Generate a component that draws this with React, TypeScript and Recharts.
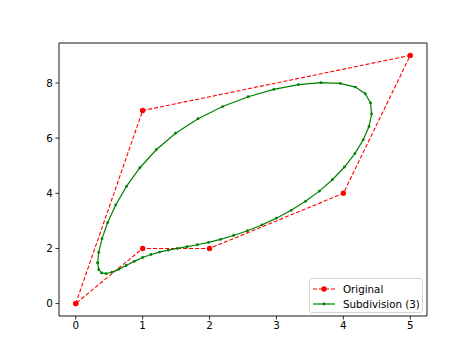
import React from 'react';
import { ScatterChart, Scatter, XAxis, YAxis, ReferenceArea, Legend } from 'recharts';

// Original control polygon (closed)
const originalX = [0, 1, 5, 4, 2, 1, 0];
const originalY = [0, 7, 9, 4, 2, 2, 0];

// Subdivision (3 levels) points, read to match the plotted curve (closed)
const subdivX = [
  0.328, 0.344, 0.393, 0.477, 0.598, 0.758, 0.959, 1.203, 1.492, 1.828, 2.195, 2.578,
  2.961, 3.328, 3.664, 3.953, 4.180, 4.328, 4.406, 4.422, 4.383, 4.297, 4.172, 4.016,
  3.836, 3.641, 3.434, 3.219, 3.000, 2.781, 2.566, 2.359, 2.164, 1.984, 1.818, 1.664,
  1.520, 1.383, 1.252, 1.125, 1.000, 0.875, 0.754, 0.641, 0.539, 0.453, 0.387, 0.344,
  0.328,
];
const subdivY = [
  1.477, 1.859, 2.355, 2.938, 3.578, 4.250, 4.926, 5.578, 6.180, 6.703, 7.145, 7.500,
  7.766, 7.938, 8.012, 7.984, 7.852, 7.609, 7.277, 6.875, 6.422, 5.938, 5.441, 4.953,
  4.492, 4.078, 3.709, 3.383, 3.098, 2.852, 2.643, 2.469, 2.328, 2.219, 2.133, 2.063,
  2.000, 1.938, 1.867, 1.781, 1.672, 1.531, 1.381, 1.242, 1.137, 1.086, 1.111, 1.234,
  1.477,
];

const xTicks = [0, 1, 2, 3, 4, 5];
const yTicks = [0, 2, 4, 6, 8];

const originalData = originalX.map((x, i) => ({ x, y: originalY[i] }));
const subdivData = subdivX.map((x, i) => ({ x, y: subdivY[i] }));

const FONT = '"DejaVu Sans", sans-serif';
const RED = '#ff0000';
const GREEN = '#008000';

const RedDot = (p: any) => <circle cx={p.cx} cy={p.cy} r={2.7} fill={RED} />;
const GreenDot = (p: any) => <circle cx={p.cx} cy={p.cy} r={1.4} fill={GREEN} />;

const renderLegend = () => (
  <div
    style={{
      boxSizing: 'border-box',
      width: 114,
      height: 35,
      border: '1px solid #d6d6d6',
      borderRadius: 3,
      background: 'rgba(255,255,255,0.8)',
      fontFamily: FONT,
      fontSize: 10.3,
      color: '#000',
      padding: '2px 0 0 3px',
    }}
  >
    <div style={{ display: 'flex', alignItems: 'center', height: 15 }}>
      <svg width={22} height={10} style={{ display: 'block' }}>
        <line x1={0} y1={5} x2={22} y2={5} stroke={RED} strokeWidth={1.1} strokeDasharray="4 2" />
        <circle cx={11} cy={5} r={2.7} fill={RED} />
      </svg>
      <span style={{ marginLeft: 8 }}>Original</span>
    </div>
    <div style={{ display: 'flex', alignItems: 'center', height: 15 }}>
      <svg width={22} height={10} style={{ display: 'block' }}>
        <line x1={0} y1={5} x2={22} y2={5} stroke={GREEN} strokeWidth={1.2} />
        <circle cx={11} cy={5} r={1.4} fill={GREEN} />
      </svg>
      <span style={{ marginLeft: 8 }}>Subdivision (3)</span>
    </div>
  </div>
);

export default function App() {
  return (
    <div style={{ position: 'absolute', left: 0, top: 0, width: 474, height: 355, background: '#fff' }}>
      <ScatterChart
        width={474}
        height={355}
        margin={{ top: 43, right: 47, bottom: 9, left: 29 }}
      >
        <XAxis
          type="number"
          dataKey="x"
          domain={[-0.25, 5.25]}
          ticks={xTicks}
          allowDataOverflow
          height={30}
          axisLine={false}
          tickLine={{ stroke: '#000', strokeWidth: 0.8 }}
          tickSize={3.6}
          tickMargin={2.5}
          tick={{ fill: '#000', fontSize: 10.3, fontFamily: FONT }}
        />
        <YAxis
          type="number"
          dataKey="y"
          domain={[-0.45, 9.45]}
          ticks={yTicks}
          allowDataOverflow
          width={30}
          axisLine={false}
          tickLine={{ stroke: '#000', strokeWidth: 0.8 }}
          tickSize={3.6}
          tickMargin={2.5}
          tick={{ fill: '#000', fontSize: 10.3, fontFamily: FONT }}
        />
        <ReferenceArea
          x1={-0.25}
          x2={5.25}
          y1={-0.45}
          y2={9.45}
          fill="none"
          fillOpacity={0}
          stroke="#000"
          strokeWidth={0.9}
          ifOverflow="visible"
        />
        <Scatter
          name="Original"
          data={originalData}
          isAnimationActive={false}
          line={{ stroke: RED, strokeWidth: 1.1, strokeDasharray: '4 2' }}
          lineType="joint"
          shape={RedDot}
        />
        <Scatter
          name="Subdivision (3)"
          data={subdivData}
          isAnimationActive={false}
          line={{ stroke: GREEN, strokeWidth: 1.2 }}
          lineType="joint"
          shape={GreenDot}
        />
        <Legend
          layout="vertical"
          align="center"
          verticalAlign="middle"
          content={renderLegend}
          wrapperStyle={{ position: 'absolute', left: 309, top: 278, width: 114, height: 35 }}
        />
      </ScatterChart>
    </div>
  );
}
